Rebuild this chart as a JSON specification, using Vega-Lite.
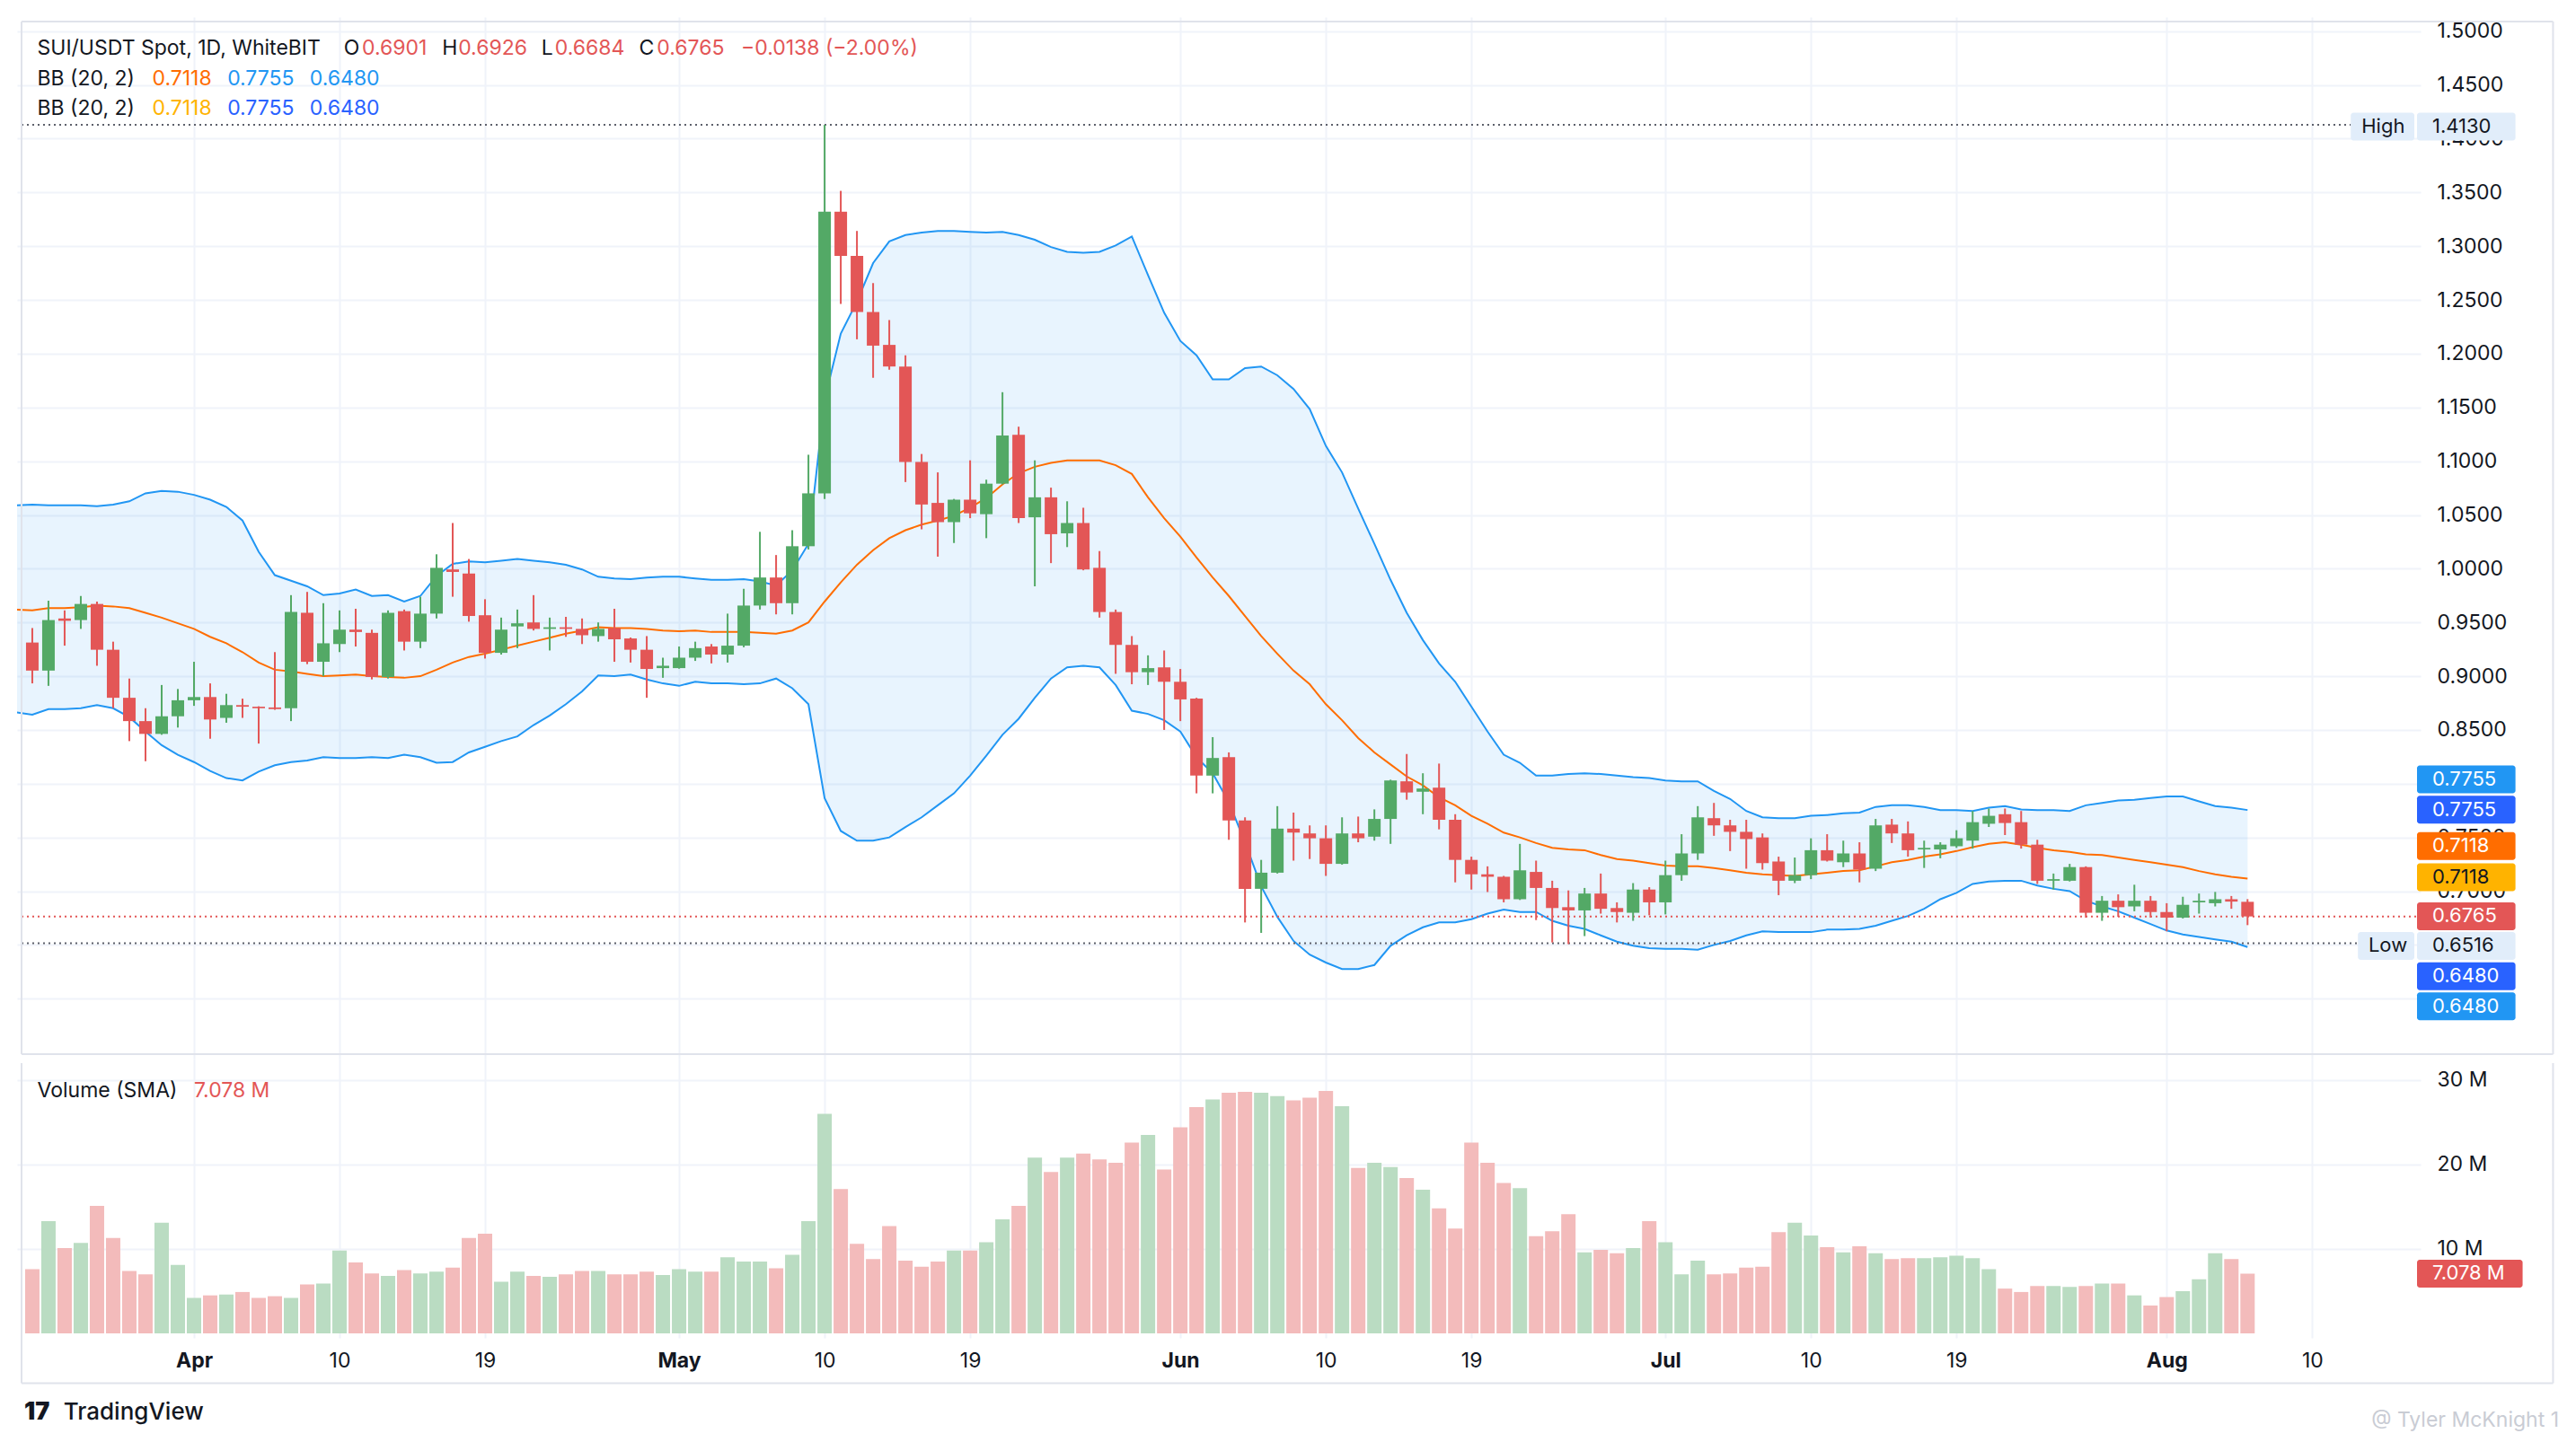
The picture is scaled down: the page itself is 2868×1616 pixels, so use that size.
{
  "$schema": "https://vega.github.io/schema/vega-lite/v6.json",
  "background": "#ffffff",
  "padding": {"left": 19, "top": 19, "right": 0, "bottom": 0},
  "autosize": {"type": "pad"},
  "bounds": "flush",
  "spacing": 0,
  "config": {
    "font": "Inter",
    "view": {"stroke": null},
    "axis": {"labelFont": "Inter", "labelFontSize": 23, "labelColor": "#131722", "gridColor": "#f0f3fa", "gridWidth": 2}
  },
  "datasets": {
    "bars": [
      {"date": "2024-03-22", "open": 0.9313, "high": 0.9448, "low": 0.8933, "close": 0.9052, "volume": 7600000},
      {"date": "2024-03-23", "open": 0.9052, "high": 0.9702, "low": 0.8910, "close": 0.9522, "volume": 13300000},
      {"date": "2024-03-24", "open": 0.9537, "high": 0.9612, "low": 0.9284, "close": 0.9515, "volume": 10100000},
      {"date": "2024-03-25", "open": 0.9522, "high": 0.9746, "low": 0.9440, "close": 0.9672, "volume": 10700000},
      {"date": "2024-03-26", "open": 0.9672, "high": 0.9694, "low": 0.9097, "close": 0.9246, "volume": 15100000},
      {"date": "2024-03-27", "open": 0.9246, "high": 0.9321, "low": 0.8702, "close": 0.8799, "volume": 11300000},
      {"date": "2024-03-28", "open": 0.8799, "high": 0.8978, "low": 0.8396, "close": 0.8582, "volume": 7400000},
      {"date": "2024-03-29", "open": 0.8582, "high": 0.8702, "low": 0.8209, "close": 0.8463, "volume": 7000000},
      {"date": "2024-03-30", "open": 0.8463, "high": 0.8918, "low": 0.8455, "close": 0.8627, "volume": 13100000},
      {"date": "2024-03-31", "open": 0.8627, "high": 0.8881, "low": 0.8522, "close": 0.8776, "volume": 8100000},
      {"date": "2024-04-01", "open": 0.8776, "high": 0.9134, "low": 0.8724, "close": 0.8806, "volume": 4200000},
      {"date": "2024-04-02", "open": 0.8806, "high": 0.8933, "low": 0.8418, "close": 0.8597, "volume": 4500000},
      {"date": "2024-04-03", "open": 0.8612, "high": 0.8836, "low": 0.8567, "close": 0.8731, "volume": 4600000},
      {"date": "2024-04-04", "open": 0.8731, "high": 0.8791, "low": 0.8612, "close": 0.8716, "volume": 4900000},
      {"date": "2024-04-05", "open": 0.8716, "high": 0.8720, "low": 0.8373, "close": 0.8702, "volume": 4200000},
      {"date": "2024-04-06", "open": 0.8709, "high": 0.9224, "low": 0.8687, "close": 0.8694, "volume": 4400000},
      {"date": "2024-04-07", "open": 0.8702, "high": 0.9754, "low": 0.8582, "close": 0.9597, "volume": 4200000},
      {"date": "2024-04-08", "open": 0.9590, "high": 0.9784, "low": 0.9112, "close": 0.9134, "volume": 5800000},
      {"date": "2024-04-09", "open": 0.9134, "high": 0.9679, "low": 0.9000, "close": 0.9306, "volume": 5900000},
      {"date": "2024-04-10", "open": 0.9299, "high": 0.9612, "low": 0.9224, "close": 0.9433, "volume": 9800000},
      {"date": "2024-04-11", "open": 0.9433, "high": 0.9627, "low": 0.9276, "close": 0.9411, "volume": 8400000},
      {"date": "2024-04-12", "open": 0.9403, "high": 0.9433, "low": 0.8970, "close": 0.8993, "volume": 7100000},
      {"date": "2024-04-13", "open": 0.8993, "high": 0.9612, "low": 0.8978, "close": 0.9590, "volume": 6800000},
      {"date": "2024-04-14", "open": 0.9605, "high": 0.9620, "low": 0.9239, "close": 0.9321, "volume": 7500000},
      {"date": "2024-04-15", "open": 0.9321, "high": 0.9739, "low": 0.9261, "close": 0.9582, "volume": 7100000},
      {"date": "2024-04-16", "open": 0.9582, "high": 1.0134, "low": 0.9537, "close": 1.0008, "volume": 7300000},
      {"date": "2024-04-17", "open": 0.9993, "high": 1.0425, "low": 0.9739, "close": 0.9970, "volume": 7800000},
      {"date": "2024-04-18", "open": 0.9955, "high": 1.0090, "low": 0.9507, "close": 0.9560, "volume": 11300000},
      {"date": "2024-04-19", "open": 0.9567, "high": 0.9716, "low": 0.9164, "close": 0.9217, "volume": 11800000},
      {"date": "2024-04-20", "open": 0.9217, "high": 0.9545, "low": 0.9201, "close": 0.9433, "volume": 6100000},
      {"date": "2024-04-21", "open": 0.9463, "high": 0.9620, "low": 0.9261, "close": 0.9492, "volume": 7300000},
      {"date": "2024-04-22", "open": 0.9500, "high": 0.9754, "low": 0.9425, "close": 0.9440, "volume": 6800000},
      {"date": "2024-04-23", "open": 0.9440, "high": 0.9545, "low": 0.9239, "close": 0.9455, "volume": 6700000},
      {"date": "2024-04-24", "open": 0.9455, "high": 0.9552, "low": 0.9366, "close": 0.9440, "volume": 7000000},
      {"date": "2024-04-25", "open": 0.9440, "high": 0.9537, "low": 0.9299, "close": 0.9381, "volume": 7400000},
      {"date": "2024-04-26", "open": 0.9373, "high": 0.9500, "low": 0.9321, "close": 0.9440, "volume": 7400000},
      {"date": "2024-04-27", "open": 0.9448, "high": 0.9627, "low": 0.9134, "close": 0.9343, "volume": 7000000},
      {"date": "2024-04-28", "open": 0.9351, "high": 0.9360, "low": 0.9127, "close": 0.9246, "volume": 7000000},
      {"date": "2024-04-29", "open": 0.9246, "high": 0.9373, "low": 0.8799, "close": 0.9067, "volume": 7300000},
      {"date": "2024-04-30", "open": 0.9075, "high": 0.9172, "low": 0.8985, "close": 0.9097, "volume": 6900000},
      {"date": "2024-05-01", "open": 0.9075, "high": 0.9276, "low": 0.9070, "close": 0.9172, "volume": 7600000},
      {"date": "2024-05-02", "open": 0.9172, "high": 0.9321, "low": 0.9142, "close": 0.9261, "volume": 7300000},
      {"date": "2024-05-03", "open": 0.9276, "high": 0.9299, "low": 0.9119, "close": 0.9201, "volume": 7300000},
      {"date": "2024-05-04", "open": 0.9201, "high": 0.9582, "low": 0.9127, "close": 0.9284, "volume": 9000000},
      {"date": "2024-05-05", "open": 0.9284, "high": 0.9813, "low": 0.9269, "close": 0.9657, "volume": 8500000},
      {"date": "2024-05-06", "open": 0.9657, "high": 1.0343, "low": 0.9620, "close": 0.9918, "volume": 8500000},
      {"date": "2024-05-07", "open": 0.9918, "high": 1.0127, "low": 0.9575, "close": 0.9679, "volume": 7700000},
      {"date": "2024-05-08", "open": 0.9679, "high": 1.0358, "low": 0.9575, "close": 1.0209, "volume": 9300000},
      {"date": "2024-05-09", "open": 1.0209, "high": 1.1060, "low": 1.0179, "close": 1.0701, "volume": 13300000},
      {"date": "2024-05-10", "open": 1.0701, "high": 1.4130, "low": 1.0649, "close": 1.3321, "volume": 26000000},
      {"date": "2024-05-11", "open": 1.3321, "high": 1.3515, "low": 1.2463, "close": 1.2910, "volume": 17100000},
      {"date": "2024-05-12", "open": 1.2910, "high": 1.3142, "low": 1.2134, "close": 1.2388, "volume": 10600000},
      {"date": "2024-05-13", "open": 1.2388, "high": 1.2657, "low": 1.1776, "close": 1.2075, "volume": 8800000},
      {"date": "2024-05-14", "open": 1.2082, "high": 1.2313, "low": 1.1851, "close": 1.1881, "volume": 12700000},
      {"date": "2024-05-15", "open": 1.1881, "high": 1.1985, "low": 1.0806, "close": 1.0993, "volume": 8600000},
      {"date": "2024-05-16", "open": 1.0993, "high": 1.1067, "low": 1.0366, "close": 1.0597, "volume": 7900000},
      {"date": "2024-05-17", "open": 1.0612, "high": 1.0896, "low": 1.0112, "close": 1.0433, "volume": 8500000},
      {"date": "2024-05-18", "open": 1.0433, "high": 1.0649, "low": 1.0239, "close": 1.0642, "volume": 9800000},
      {"date": "2024-05-19", "open": 1.0642, "high": 1.1008, "low": 1.0470, "close": 1.0515, "volume": 9800000},
      {"date": "2024-05-20", "open": 1.0507, "high": 1.0828, "low": 1.0284, "close": 1.0791, "volume": 10800000},
      {"date": "2024-05-21", "open": 1.0791, "high": 1.1642, "low": 1.0784, "close": 1.1239, "volume": 13500000},
      {"date": "2024-05-22", "open": 1.1246, "high": 1.1321, "low": 1.0425, "close": 1.0470, "volume": 15100000},
      {"date": "2024-05-23", "open": 1.0478, "high": 1.1008, "low": 0.9836, "close": 1.0664, "volume": 20800000},
      {"date": "2024-05-24", "open": 1.0664, "high": 1.0754, "low": 1.0052, "close": 1.0321, "volume": 19100000},
      {"date": "2024-05-25", "open": 1.0329, "high": 1.0627, "low": 1.0201, "close": 1.0425, "volume": 20800000},
      {"date": "2024-05-26", "open": 1.0425, "high": 1.0567, "low": 0.9985, "close": 0.9993, "volume": 21300000},
      {"date": "2024-05-27", "open": 1.0008, "high": 1.0164, "low": 0.9545, "close": 0.9597, "volume": 20600000},
      {"date": "2024-05-28", "open": 0.9597, "high": 0.9620, "low": 0.9022, "close": 0.9291, "volume": 20200000},
      {"date": "2024-05-29", "open": 0.9291, "high": 0.9373, "low": 0.8925, "close": 0.9037, "volume": 22600000},
      {"date": "2024-05-30", "open": 0.9037, "high": 0.9194, "low": 0.8918, "close": 0.9075, "volume": 23500000},
      {"date": "2024-05-31", "open": 0.9082, "high": 0.9239, "low": 0.8500, "close": 0.8948, "volume": 19400000},
      {"date": "2024-06-01", "open": 0.8948, "high": 0.9067, "low": 0.8582, "close": 0.8784, "volume": 24400000},
      {"date": "2024-06-02", "open": 0.8791, "high": 0.8799, "low": 0.7910, "close": 0.8075, "volume": 26800000},
      {"date": "2024-06-03", "open": 0.8075, "high": 0.8433, "low": 0.7910, "close": 0.8239, "volume": 27700000},
      {"date": "2024-06-04", "open": 0.8246, "high": 0.8291, "low": 0.7478, "close": 0.7657, "volume": 28500000},
      {"date": "2024-06-05", "open": 0.7657, "high": 0.7687, "low": 0.6709, "close": 0.7022, "volume": 28600000},
      {"date": "2024-06-06", "open": 0.7022, "high": 0.7291, "low": 0.6612, "close": 0.7172, "volume": 28500000},
      {"date": "2024-06-07", "open": 0.7172, "high": 0.7791, "low": 0.7164, "close": 0.7582, "volume": 28100000},
      {"date": "2024-06-08", "open": 0.7582, "high": 0.7731, "low": 0.7284, "close": 0.7545, "volume": 27600000},
      {"date": "2024-06-09", "open": 0.7537, "high": 0.7612, "low": 0.7299, "close": 0.7492, "volume": 27900000},
      {"date": "2024-06-10", "open": 0.7492, "high": 0.7612, "low": 0.7142, "close": 0.7254, "volume": 28700000},
      {"date": "2024-06-11", "open": 0.7254, "high": 0.7687, "low": 0.7247, "close": 0.7537, "volume": 26900000},
      {"date": "2024-06-12", "open": 0.7537, "high": 0.7694, "low": 0.7455, "close": 0.7492, "volume": 19600000},
      {"date": "2024-06-13", "open": 0.7507, "high": 0.7761, "low": 0.7470, "close": 0.7672, "volume": 20200000},
      {"date": "2024-06-14", "open": 0.7672, "high": 0.8037, "low": 0.7440, "close": 0.8030, "volume": 19700000},
      {"date": "2024-06-15", "open": 0.8022, "high": 0.8276, "low": 0.7851, "close": 0.7918, "volume": 18400000},
      {"date": "2024-06-16", "open": 0.7925, "high": 0.8097, "low": 0.7716, "close": 0.7955, "volume": 17000000},
      {"date": "2024-06-17", "open": 0.7963, "high": 0.8187, "low": 0.7575, "close": 0.7664, "volume": 14800000},
      {"date": "2024-06-18", "open": 0.7664, "high": 0.7716, "low": 0.7082, "close": 0.7291, "volume": 12400000},
      {"date": "2024-06-19", "open": 0.7291, "high": 0.7321, "low": 0.7015, "close": 0.7157, "volume": 22600000},
      {"date": "2024-06-20", "open": 0.7157, "high": 0.7231, "low": 0.6992, "close": 0.7134, "volume": 20200000},
      {"date": "2024-06-21", "open": 0.7134, "high": 0.7142, "low": 0.6896, "close": 0.6925, "volume": 17800000},
      {"date": "2024-06-22", "open": 0.6925, "high": 0.7440, "low": 0.6918, "close": 0.7194, "volume": 17200000},
      {"date": "2024-06-23", "open": 0.7179, "high": 0.7284, "low": 0.6731, "close": 0.7030, "volume": 11500000},
      {"date": "2024-06-24", "open": 0.7030, "high": 0.7097, "low": 0.6523, "close": 0.6843, "volume": 12100000},
      {"date": "2024-06-25", "open": 0.6851, "high": 0.7007, "low": 0.6508, "close": 0.6821, "volume": 14100000},
      {"date": "2024-06-26", "open": 0.6821, "high": 0.7030, "low": 0.6582, "close": 0.6978, "volume": 9600000},
      {"date": "2024-06-27", "open": 0.6978, "high": 0.7164, "low": 0.6791, "close": 0.6836, "volume": 9900000},
      {"date": "2024-06-28", "open": 0.6843, "high": 0.6896, "low": 0.6709, "close": 0.6806, "volume": 9500000},
      {"date": "2024-06-29", "open": 0.6799, "high": 0.7075, "low": 0.6724, "close": 0.7015, "volume": 10100000},
      {"date": "2024-06-30", "open": 0.7015, "high": 0.7037, "low": 0.6776, "close": 0.6896, "volume": 13300000},
      {"date": "2024-07-01", "open": 0.6896, "high": 0.7284, "low": 0.6784, "close": 0.7149, "volume": 10800000},
      {"date": "2024-07-02", "open": 0.7149, "high": 0.7530, "low": 0.7097, "close": 0.7351, "volume": 7000000},
      {"date": "2024-07-03", "open": 0.7351, "high": 0.7791, "low": 0.7291, "close": 0.7687, "volume": 8600000},
      {"date": "2024-07-04", "open": 0.7679, "high": 0.7821, "low": 0.7515, "close": 0.7612, "volume": 7000000},
      {"date": "2024-07-05", "open": 0.7612, "high": 0.7664, "low": 0.7373, "close": 0.7552, "volume": 7100000},
      {"date": "2024-07-06", "open": 0.7552, "high": 0.7664, "low": 0.7209, "close": 0.7485, "volume": 7800000},
      {"date": "2024-07-07", "open": 0.7500, "high": 0.7537, "low": 0.7201, "close": 0.7261, "volume": 7900000},
      {"date": "2024-07-08", "open": 0.7276, "high": 0.7321, "low": 0.6963, "close": 0.7097, "volume": 12000000},
      {"date": "2024-07-09", "open": 0.7097, "high": 0.7313, "low": 0.7075, "close": 0.7149, "volume": 13100000},
      {"date": "2024-07-10", "open": 0.7149, "high": 0.7492, "low": 0.7112, "close": 0.7381, "volume": 11600000},
      {"date": "2024-07-11", "open": 0.7381, "high": 0.7530, "low": 0.7276, "close": 0.7284, "volume": 10200000},
      {"date": "2024-07-12", "open": 0.7269, "high": 0.7470, "low": 0.7224, "close": 0.7351, "volume": 9600000},
      {"date": "2024-07-13", "open": 0.7351, "high": 0.7455, "low": 0.7082, "close": 0.7201, "volume": 10300000},
      {"date": "2024-07-14", "open": 0.7209, "high": 0.7672, "low": 0.7187, "close": 0.7612, "volume": 9500000},
      {"date": "2024-07-15", "open": 0.7619, "high": 0.7672, "low": 0.7448, "close": 0.7537, "volume": 8800000},
      {"date": "2024-07-16", "open": 0.7537, "high": 0.7649, "low": 0.7321, "close": 0.7381, "volume": 8900000},
      {"date": "2024-07-17", "open": 0.7388, "high": 0.7470, "low": 0.7216, "close": 0.7403, "volume": 8900000},
      {"date": "2024-07-18", "open": 0.7388, "high": 0.7455, "low": 0.7306, "close": 0.7433, "volume": 9000000},
      {"date": "2024-07-19", "open": 0.7418, "high": 0.7567, "low": 0.7403, "close": 0.7492, "volume": 9200000},
      {"date": "2024-07-20", "open": 0.7470, "high": 0.7746, "low": 0.7396, "close": 0.7642, "volume": 8900000},
      {"date": "2024-07-21", "open": 0.7627, "high": 0.7769, "low": 0.7597, "close": 0.7701, "volume": 7600000},
      {"date": "2024-07-22", "open": 0.7716, "high": 0.7769, "low": 0.7522, "close": 0.7634, "volume": 5300000},
      {"date": "2024-07-23", "open": 0.7642, "high": 0.7746, "low": 0.7396, "close": 0.7433, "volume": 4900000},
      {"date": "2024-07-24", "open": 0.7433, "high": 0.7478, "low": 0.7067, "close": 0.7097, "volume": 5600000},
      {"date": "2024-07-25", "open": 0.7097, "high": 0.7164, "low": 0.7015, "close": 0.7112, "volume": 5600000},
      {"date": "2024-07-26", "open": 0.7097, "high": 0.7254, "low": 0.7090, "close": 0.7224, "volume": 5500000},
      {"date": "2024-07-27", "open": 0.7224, "high": 0.7231, "low": 0.6754, "close": 0.6799, "volume": 5600000},
      {"date": "2024-07-28", "open": 0.6799, "high": 0.6955, "low": 0.6724, "close": 0.6911, "volume": 5900000},
      {"date": "2024-07-29", "open": 0.6911, "high": 0.6970, "low": 0.6761, "close": 0.6851, "volume": 5900000},
      {"date": "2024-07-30", "open": 0.6858, "high": 0.7060, "low": 0.6813, "close": 0.6911, "volume": 4500000},
      {"date": "2024-07-31", "open": 0.6911, "high": 0.6955, "low": 0.6754, "close": 0.6806, "volume": 3300000},
      {"date": "2024-08-01", "open": 0.6806, "high": 0.6888, "low": 0.6627, "close": 0.6754, "volume": 4300000},
      {"date": "2024-08-02", "open": 0.6754, "high": 0.6948, "low": 0.6746, "close": 0.6873, "volume": 5000000},
      {"date": "2024-08-03", "open": 0.6896, "high": 0.6978, "low": 0.6791, "close": 0.6911, "volume": 6400000},
      {"date": "2024-08-04", "open": 0.6888, "high": 0.6993, "low": 0.6858, "close": 0.6925, "volume": 9500000},
      {"date": "2024-08-05", "open": 0.6925, "high": 0.6955, "low": 0.6836, "close": 0.6903, "volume": 8800000},
      {"date": "2024-08-06", "open": 0.6901, "high": 0.6926, "low": 0.6684, "close": 0.6765, "volume": 7078000}
    ],
    "bb": [
      {"date": "2024-03-21", "basis": 0.9620, "upper": 1.0590, "lower": 0.8664},
      {"date": "2024-03-22", "basis": 0.9612, "upper": 1.0597, "lower": 0.8642},
      {"date": "2024-03-23", "basis": 0.9634, "upper": 1.0590, "lower": 0.8694},
      {"date": "2024-03-24", "basis": 0.9634, "upper": 1.0590, "lower": 0.8694},
      {"date": "2024-03-25", "basis": 0.9642, "upper": 1.0590, "lower": 0.8702},
      {"date": "2024-03-26", "basis": 0.9657, "upper": 1.0582, "lower": 0.8731},
      {"date": "2024-03-27", "basis": 0.9649, "upper": 1.0597, "lower": 0.8702},
      {"date": "2024-03-28", "basis": 0.9634, "upper": 1.0627, "lower": 0.8619},
      {"date": "2024-03-29", "basis": 0.9590, "upper": 1.0701, "lower": 0.8485},
      {"date": "2024-03-30", "basis": 0.9545, "upper": 1.0724, "lower": 0.8358},
      {"date": "2024-03-31", "basis": 0.9492, "upper": 1.0716, "lower": 0.8269},
      {"date": "2024-04-01", "basis": 0.9440, "upper": 1.0687, "lower": 0.8201},
      {"date": "2024-04-02", "basis": 0.9366, "upper": 1.0642, "lower": 0.8119},
      {"date": "2024-04-03", "basis": 0.9306, "upper": 1.0575, "lower": 0.8052},
      {"date": "2024-04-04", "basis": 0.9224, "upper": 1.0448, "lower": 0.8030},
      {"date": "2024-04-05", "basis": 0.9127, "upper": 1.0157, "lower": 0.8112},
      {"date": "2024-04-06", "basis": 0.9060, "upper": 0.9940, "lower": 0.8172},
      {"date": "2024-04-07", "basis": 0.9045, "upper": 0.9888, "lower": 0.8201},
      {"date": "2024-04-08", "basis": 0.9022, "upper": 0.9836, "lower": 0.8216},
      {"date": "2024-04-09", "basis": 0.9000, "upper": 0.9754, "lower": 0.8246},
      {"date": "2024-04-10", "basis": 0.9007, "upper": 0.9769, "lower": 0.8239},
      {"date": "2024-04-11", "basis": 0.9015, "upper": 0.9806, "lower": 0.8239},
      {"date": "2024-04-12", "basis": 0.9000, "upper": 0.9746, "lower": 0.8246},
      {"date": "2024-04-13", "basis": 0.8993, "upper": 0.9754, "lower": 0.8239},
      {"date": "2024-04-14", "basis": 0.8985, "upper": 0.9694, "lower": 0.8269},
      {"date": "2024-04-15", "basis": 0.9000, "upper": 0.9746, "lower": 0.8246},
      {"date": "2024-04-16", "basis": 0.9060, "upper": 0.9933, "lower": 0.8194},
      {"date": "2024-04-17", "basis": 0.9127, "upper": 1.0045, "lower": 0.8201},
      {"date": "2024-04-18", "basis": 0.9179, "upper": 1.0067, "lower": 0.8291},
      {"date": "2024-04-19", "basis": 0.9209, "upper": 1.0060, "lower": 0.8343},
      {"date": "2024-04-20", "basis": 0.9246, "upper": 1.0075, "lower": 0.8396},
      {"date": "2024-04-21", "basis": 0.9284, "upper": 1.0090, "lower": 0.8440},
      {"date": "2024-04-22", "basis": 0.9321, "upper": 1.0075, "lower": 0.8545},
      {"date": "2024-04-23", "basis": 0.9358, "upper": 1.0060, "lower": 0.8634},
      {"date": "2024-04-24", "basis": 0.9396, "upper": 1.0037, "lower": 0.8739},
      {"date": "2024-04-25", "basis": 0.9425, "upper": 0.9993, "lower": 0.8858},
      {"date": "2024-04-26", "basis": 0.9455, "upper": 0.9925, "lower": 0.9007},
      {"date": "2024-04-27", "basis": 0.9448, "upper": 0.9910, "lower": 0.9000},
      {"date": "2024-04-28", "basis": 0.9448, "upper": 0.9903, "lower": 0.9015},
      {"date": "2024-04-29", "basis": 0.9440, "upper": 0.9918, "lower": 0.8970},
      {"date": "2024-04-30", "basis": 0.9425, "upper": 0.9925, "lower": 0.8933},
      {"date": "2024-05-01", "basis": 0.9418, "upper": 0.9925, "lower": 0.8910},
      {"date": "2024-05-02", "basis": 0.9425, "upper": 0.9910, "lower": 0.8948},
      {"date": "2024-05-03", "basis": 0.9411, "upper": 0.9896, "lower": 0.8933},
      {"date": "2024-05-04", "basis": 0.9411, "upper": 0.9896, "lower": 0.8933},
      {"date": "2024-05-05", "basis": 0.9411, "upper": 0.9903, "lower": 0.8925},
      {"date": "2024-05-06", "basis": 0.9403, "upper": 0.9881, "lower": 0.8933},
      {"date": "2024-05-07", "basis": 0.9396, "upper": 0.9843, "lower": 0.8978},
      {"date": "2024-05-08", "basis": 0.9425, "upper": 0.9985, "lower": 0.8888},
      {"date": "2024-05-09", "basis": 0.9500, "upper": 1.0231, "lower": 0.8739},
      {"date": "2024-05-10", "basis": 0.9694, "upper": 1.1575, "lower": 0.7866},
      {"date": "2024-05-11", "basis": 0.9873, "upper": 1.2187, "lower": 0.7560},
      {"date": "2024-05-12", "basis": 1.0037, "upper": 1.2485, "lower": 0.7470},
      {"date": "2024-05-13", "basis": 1.0172, "upper": 1.2843, "lower": 0.7470},
      {"date": "2024-05-14", "basis": 1.0284, "upper": 1.3045, "lower": 0.7500},
      {"date": "2024-05-15", "basis": 1.0358, "upper": 1.3104, "lower": 0.7597},
      {"date": "2024-05-16", "basis": 1.0410, "upper": 1.3127, "lower": 0.7687},
      {"date": "2024-05-17", "basis": 1.0448, "upper": 1.3142, "lower": 0.7799},
      {"date": "2024-05-18", "basis": 1.0493, "upper": 1.3142, "lower": 0.7910},
      {"date": "2024-05-19", "basis": 1.0567, "upper": 1.3134, "lower": 0.8075},
      {"date": "2024-05-20", "basis": 1.0657, "upper": 1.3127, "lower": 0.8261},
      {"date": "2024-05-21", "basis": 1.0784, "upper": 1.3134, "lower": 0.8455},
      {"date": "2024-05-22", "basis": 1.0888, "upper": 1.3104, "lower": 0.8604},
      {"date": "2024-05-23", "basis": 1.0948, "upper": 1.3060, "lower": 0.8799},
      {"date": "2024-05-24", "basis": 1.0985, "upper": 1.2992, "lower": 0.8978},
      {"date": "2024-05-25", "basis": 1.1007, "upper": 1.2948, "lower": 0.9082},
      {"date": "2024-05-26", "basis": 1.1007, "upper": 1.2940, "lower": 0.9097},
      {"date": "2024-05-27", "basis": 1.1007, "upper": 1.2948, "lower": 0.9082},
      {"date": "2024-05-28", "basis": 1.0963, "upper": 1.3007, "lower": 0.8918},
      {"date": "2024-05-29", "basis": 1.0881, "upper": 1.3090, "lower": 0.8679},
      {"date": "2024-05-30", "basis": 1.0664, "upper": 1.2731, "lower": 0.8649},
      {"date": "2024-05-31", "basis": 1.0470, "upper": 1.2381, "lower": 0.8590},
      {"date": "2024-06-01", "basis": 1.0299, "upper": 1.2119, "lower": 0.8485},
      {"date": "2024-06-02", "basis": 1.0105, "upper": 1.1985, "lower": 0.8246},
      {"date": "2024-06-03", "basis": 0.9918, "upper": 1.1761, "lower": 0.8097},
      {"date": "2024-06-04", "basis": 0.9746, "upper": 1.1761, "lower": 0.7828},
      {"date": "2024-06-05", "basis": 0.9560, "upper": 1.1866, "lower": 0.7455},
      {"date": "2024-06-06", "basis": 0.9373, "upper": 1.1881, "lower": 0.7045},
      {"date": "2024-06-07", "basis": 0.9209, "upper": 1.1799, "lower": 0.6761},
      {"date": "2024-06-08", "basis": 0.9052, "upper": 1.1672, "lower": 0.6537},
      {"date": "2024-06-09", "basis": 0.8925, "upper": 1.1485, "lower": 0.6410},
      {"date": "2024-06-10", "basis": 0.8739, "upper": 1.1142, "lower": 0.6336},
      {"date": "2024-06-11", "basis": 0.8590, "upper": 1.0896, "lower": 0.6276},
      {"date": "2024-06-12", "basis": 0.8425, "upper": 1.0560, "lower": 0.6276},
      {"date": "2024-06-13", "basis": 0.8291, "upper": 1.0231, "lower": 0.6313},
      {"date": "2024-06-14", "basis": 0.8179, "upper": 0.9896, "lower": 0.6492},
      {"date": "2024-06-15", "basis": 0.8067, "upper": 0.9590, "lower": 0.6589},
      {"date": "2024-06-16", "basis": 0.7985, "upper": 0.9336, "lower": 0.6664},
      {"date": "2024-06-17", "basis": 0.7873, "upper": 0.9119, "lower": 0.6709},
      {"date": "2024-06-18", "basis": 0.7799, "upper": 0.8948, "lower": 0.6709},
      {"date": "2024-06-19", "basis": 0.7701, "upper": 0.8716, "lower": 0.6739},
      {"date": "2024-06-20", "basis": 0.7627, "upper": 0.8485, "lower": 0.6791},
      {"date": "2024-06-21", "basis": 0.7545, "upper": 0.8269, "lower": 0.6828},
      {"date": "2024-06-22", "basis": 0.7500, "upper": 0.8194, "lower": 0.6806},
      {"date": "2024-06-23", "basis": 0.7448, "upper": 0.8075, "lower": 0.6806},
      {"date": "2024-06-24", "basis": 0.7403, "upper": 0.8075, "lower": 0.6724},
      {"date": "2024-06-25", "basis": 0.7388, "upper": 0.8090, "lower": 0.6679},
      {"date": "2024-06-26", "basis": 0.7381, "upper": 0.8097, "lower": 0.6649},
      {"date": "2024-06-27", "basis": 0.7336, "upper": 0.8090, "lower": 0.6589},
      {"date": "2024-06-28", "basis": 0.7299, "upper": 0.8075, "lower": 0.6530},
      {"date": "2024-06-29", "basis": 0.7284, "upper": 0.8060, "lower": 0.6492},
      {"date": "2024-06-30", "basis": 0.7261, "upper": 0.8052, "lower": 0.6470},
      {"date": "2024-07-01", "basis": 0.7239, "upper": 0.8030, "lower": 0.6463},
      {"date": "2024-07-02", "basis": 0.7231, "upper": 0.8022, "lower": 0.6463},
      {"date": "2024-07-03", "basis": 0.7231, "upper": 0.8022, "lower": 0.6455},
      {"date": "2024-07-04", "basis": 0.7216, "upper": 0.7933, "lower": 0.6500},
      {"date": "2024-07-05", "basis": 0.7194, "upper": 0.7858, "lower": 0.6537},
      {"date": "2024-07-06", "basis": 0.7172, "upper": 0.7746, "lower": 0.6589},
      {"date": "2024-07-07", "basis": 0.7157, "upper": 0.7687, "lower": 0.6627},
      {"date": "2024-07-08", "basis": 0.7149, "upper": 0.7679, "lower": 0.6619},
      {"date": "2024-07-09", "basis": 0.7142, "upper": 0.7679, "lower": 0.6619},
      {"date": "2024-07-10", "basis": 0.7157, "upper": 0.7701, "lower": 0.6619},
      {"date": "2024-07-11", "basis": 0.7172, "upper": 0.7709, "lower": 0.6642},
      {"date": "2024-07-12", "basis": 0.7187, "upper": 0.7724, "lower": 0.6642},
      {"date": "2024-07-13", "basis": 0.7194, "upper": 0.7731, "lower": 0.6649},
      {"date": "2024-07-14", "basis": 0.7231, "upper": 0.7784, "lower": 0.6679},
      {"date": "2024-07-15", "basis": 0.7269, "upper": 0.7799, "lower": 0.6724},
      {"date": "2024-07-16", "basis": 0.7291, "upper": 0.7799, "lower": 0.6769},
      {"date": "2024-07-17", "basis": 0.7321, "upper": 0.7784, "lower": 0.6836},
      {"date": "2024-07-18", "basis": 0.7343, "upper": 0.7754, "lower": 0.6925},
      {"date": "2024-07-19", "basis": 0.7373, "upper": 0.7754, "lower": 0.6985},
      {"date": "2024-07-20", "basis": 0.7410, "upper": 0.7746, "lower": 0.7067},
      {"date": "2024-07-21", "basis": 0.7440, "upper": 0.7776, "lower": 0.7090},
      {"date": "2024-07-22", "basis": 0.7455, "upper": 0.7791, "lower": 0.7097},
      {"date": "2024-07-23", "basis": 0.7433, "upper": 0.7761, "lower": 0.7097},
      {"date": "2024-07-24", "basis": 0.7403, "upper": 0.7754, "lower": 0.7052},
      {"date": "2024-07-25", "basis": 0.7381, "upper": 0.7754, "lower": 0.7022},
      {"date": "2024-07-26", "basis": 0.7366, "upper": 0.7746, "lower": 0.7000},
      {"date": "2024-07-27", "basis": 0.7343, "upper": 0.7799, "lower": 0.6911},
      {"date": "2024-07-28", "basis": 0.7336, "upper": 0.7821, "lower": 0.6858},
      {"date": "2024-07-29", "basis": 0.7313, "upper": 0.7843, "lower": 0.6813},
      {"date": "2024-07-30", "basis": 0.7291, "upper": 0.7851, "lower": 0.6754},
      {"date": "2024-07-31", "basis": 0.7269, "upper": 0.7866, "lower": 0.6694},
      {"date": "2024-08-01", "basis": 0.7246, "upper": 0.7881, "lower": 0.6634},
      {"date": "2024-08-02", "basis": 0.7224, "upper": 0.7881, "lower": 0.6597},
      {"date": "2024-08-03", "basis": 0.7187, "upper": 0.7836, "lower": 0.6575},
      {"date": "2024-08-04", "basis": 0.7157, "upper": 0.7791, "lower": 0.6552},
      {"date": "2024-08-05", "basis": 0.7134, "upper": 0.7776, "lower": 0.6530},
      {"date": "2024-08-06", "basis": 0.7118, "upper": 0.7755, "lower": 0.6480}
    ],
    "tags": [
      {"label": "1.4130", "level": 1.4112, "kind": "high"},
      {"label": "0.7755", "level": 0.8040, "kind": "bb1band"},
      {"label": "0.7755", "level": 0.7758, "kind": "bb2band"},
      {"label": "0.7118", "level": 0.7419, "kind": "bb1basis"},
      {"label": "0.7118", "level": 0.7129, "kind": "bb2basis"},
      {"label": "0.6765", "level": 0.6767, "kind": "last"},
      {"label": "0.6516", "level": 0.6491, "kind": "low"},
      {"label": "0.6480", "level": 0.6209, "kind": "bb2band"},
      {"label": "0.6480", "level": 0.5928, "kind": "bb1band"}
    ],
    "one": [{}]
  },
  "vconcat": [
    {
      "width": 2676,
      "height": 1160,
      "layer": [
        {
          "data": {"name": "bb"},
          "mark": {"type": "area", "color": "#2196f3", "opacity": 0.1, "clip": true},
          "encoding": {
            "x": {
              "field": "date", "type": "temporal",
              "scale": {"type": "utc", "domain": [1711008230400, 1723803206400], "nice": false},
              "axis": {
                "title": null, "labels": false, "ticks": false, "domain": false, "grid": true,
                "values": [1711929600000, 1712707200000, 1713484800000, 1714521600000, 1715299200000, 1716076800000, 1717200000000, 1717977600000, 1718755200000, 1719792000000, 1720569600000, 1721347200000, 1722470400000, 1723248000000]
              }
            },
            "y": {
              "field": "lower", "type": "quantitative",
              "scale": {"domain": [0.5484, 1.509], "zero": false, "nice": false},
              "axis": {
                "title": null, "orient": "right", "ticks": false, "domain": false, "grid": true, "labelPadding": 18,
                "values": [0.6, 0.65, 0.7, 0.75, 0.8, 0.85, 0.9, 0.95, 1.0, 1.05, 1.1, 1.15, 1.2, 1.25, 1.3, 1.35, 1.4, 1.45, 1.5],
                "labelExpr": "datum.value == 0.8 || datum.value == 0.65 || datum.value == 0.6 ? '' : format(datum.value, '.4f')"
              }
            },
            "y2": {"field": "upper"}
          }
        },
        {
          "data": {"name": "bb"},
          "mark": {"type": "line", "color": "#2196f3", "strokeWidth": 2, "clip": true},
          "encoding": {"x": {"field": "date", "type": "temporal"}, "y": {"field": "upper", "type": "quantitative"}}
        },
        {
          "data": {"name": "bb"},
          "mark": {"type": "line", "color": "#2196f3", "strokeWidth": 2, "clip": true},
          "encoding": {"x": {"field": "date", "type": "temporal"}, "y": {"field": "lower", "type": "quantitative"}}
        },
        {
          "data": {"name": "bb"},
          "mark": {"type": "line", "color": "#ff6d00", "strokeWidth": 2, "clip": true},
          "encoding": {"x": {"field": "date", "type": "temporal"}, "y": {"field": "basis", "type": "quantitative"}}
        },
        {
          "data": {"name": "one"},
          "mark": {"type": "rule", "color": "#5d606b", "strokeWidth": 2, "strokeDash": [2, 4]},
          "encoding": {
            "x": {"datum": 1711008230400, "type": "temporal"},
            "x2": {"datum": 1723453977600},
            "y": {"datum": 1.413, "type": "quantitative"}
          }
        },
        {
          "data": {"name": "one"},
          "mark": {"type": "rule", "color": "#5d606b", "strokeWidth": 2, "strokeDash": [2, 4]},
          "encoding": {
            "x": {"datum": 1711008230400, "type": "temporal"},
            "x2": {"datum": 1723492252800},
            "y": {"datum": 0.6516, "type": "quantitative"}
          }
        },
        {
          "data": {"name": "one"},
          "mark": {"type": "rule", "color": "#e35656", "strokeWidth": 2, "strokeDash": [2, 4]},
          "encoding": {
            "x": {"datum": 1711008230400, "type": "temporal"},
            "x2": {"datum": 1723803206400},
            "y": {"datum": 0.6765, "type": "quantitative"}
          }
        },
        {
          "data": {"name": "bars"},
          "mark": {"type": "rule", "strokeWidth": 2},
          "encoding": {
            "x": {"field": "date", "type": "temporal"},
            "y": {"field": "low", "type": "quantitative"},
            "y2": {"field": "high"},
            "color": {"condition": {"test": "datum.close >= datum.open", "value": "#53a966"}, "value": "#e35656"}
          }
        },
        {
          "data": {"name": "bars"},
          "mark": {"type": "bar", "size": 14},
          "encoding": {
            "x": {"field": "date", "type": "temporal"},
            "y": {"field": "open", "type": "quantitative"},
            "y2": {"field": "close"},
            "color": {"condition": {"test": "datum.close >= datum.open", "value": "#53a966"}, "value": "#e35656"}
          }
        },
        {
          "data": {"name": "one"},
          "mark": {"type": "text", "align": "left", "baseline": "middle", "fontSize": 23, "color": "#131722"},
          "encoding": {"x": {"datum": 1711092384000, "type": "temporal"}, "y": {"datum": 1.4841, "type": "quantitative"}, "text": {"value": "SUI/USDT Spot, 1D, WhiteBIT"}}
        },
        {
          "data": {"name": "one"},
          "mark": {"type": "text", "align": "left", "baseline": "middle", "fontSize": 23, "color": "#131722"},
          "encoding": {"x": {"datum": 1712729491200, "type": "temporal"}, "y": {"datum": 1.4841, "type": "quantitative"}, "text": {"value": "O"}}
        },
        {
          "data": {"name": "one"},
          "mark": {"type": "text", "align": "left", "baseline": "middle", "fontSize": 23, "color": "#e35656"},
          "encoding": {"x": {"datum": 1712827555200, "type": "temporal"}, "y": {"datum": 1.4841, "type": "quantitative"}, "text": {"value": "0.6901"}}
        },
        {
          "data": {"name": "one"},
          "mark": {"type": "text", "align": "left", "baseline": "middle", "fontSize": 23, "color": "#131722"},
          "encoding": {"x": {"datum": 1713255494400, "type": "temporal"}, "y": {"datum": 1.4841, "type": "quantitative"}, "text": {"value": "H"}}
        },
        {
          "data": {"name": "one"},
          "mark": {"type": "text", "align": "left", "baseline": "middle", "fontSize": 23, "color": "#e35656"},
          "encoding": {"x": {"datum": 1713341548800, "type": "temporal"}, "y": {"datum": 1.4841, "type": "quantitative"}, "text": {"value": "0.6926"}}
        },
        {
          "data": {"name": "one"},
          "mark": {"type": "text", "align": "left", "baseline": "middle", "fontSize": 23, "color": "#131722"},
          "encoding": {"x": {"datum": 1713786249600, "type": "temporal"}, "y": {"datum": 1.4841, "type": "quantitative"}, "text": {"value": "L"}}
        },
        {
          "data": {"name": "one"},
          "mark": {"type": "text", "align": "left", "baseline": "middle", "fontSize": 23, "color": "#e35656"},
          "encoding": {"x": {"datum": 1713857961600, "type": "temporal"}, "y": {"datum": 1.4841, "type": "quantitative"}, "text": {"value": "0.6684"}}
        },
        {
          "data": {"name": "one"},
          "mark": {"type": "text", "align": "left", "baseline": "middle", "fontSize": 23, "color": "#131722"},
          "encoding": {"x": {"datum": 1714307328000, "type": "temporal"}, "y": {"datum": 1.4841, "type": "quantitative"}, "text": {"value": "C"}}
        },
        {
          "data": {"name": "one"},
          "mark": {"type": "text", "align": "left", "baseline": "middle", "fontSize": 23, "color": "#e35656"},
          "encoding": {"x": {"datum": 1714402972800, "type": "temporal"}, "y": {"datum": 1.4841, "type": "quantitative"}, "text": {"value": "0.6765"}}
        },
        {
          "data": {"name": "one"},
          "mark": {"type": "text", "align": "left", "baseline": "middle", "fontSize": 23, "color": "#e35656"},
          "encoding": {"x": {"datum": 1714852512000, "type": "temporal"}, "y": {"datum": 1.4841, "type": "quantitative"}, "text": {"value": "−0.0138 (−2.00%)"}}
        },
        {
          "data": {"name": "one"},
          "mark": {"type": "text", "align": "left", "baseline": "middle", "fontSize": 23, "color": "#131722"},
          "encoding": {"x": {"datum": 1711092384000, "type": "temporal"}, "y": {"datum": 1.4559, "type": "quantitative"}, "text": {"value": "BB (20, 2)"}}
        },
        {
          "data": {"name": "one"},
          "mark": {"type": "text", "align": "left", "baseline": "middle", "fontSize": 23, "color": "#ff6d00"},
          "encoding": {"x": {"datum": 1711706342400, "type": "temporal"}, "y": {"datum": 1.4559, "type": "quantitative"}, "text": {"value": "0.7118"}}
        },
        {
          "data": {"name": "one"},
          "mark": {"type": "text", "align": "left", "baseline": "middle", "fontSize": 23, "color": "#2196f3"},
          "encoding": {"x": {"datum": 1712107929600, "type": "temporal"}, "y": {"datum": 1.4559, "type": "quantitative"}, "text": {"value": "0.7755"}}
        },
        {
          "data": {"name": "one"},
          "mark": {"type": "text", "align": "left", "baseline": "middle", "fontSize": 23, "color": "#2196f3"},
          "encoding": {"x": {"datum": 1712547878400, "type": "temporal"}, "y": {"datum": 1.4559, "type": "quantitative"}, "text": {"value": "0.6480"}}
        },
        {
          "data": {"name": "one"},
          "mark": {"type": "text", "align": "left", "baseline": "middle", "fontSize": 23, "color": "#131722"},
          "encoding": {"x": {"datum": 1711092384000, "type": "temporal"}, "y": {"datum": 1.4278, "type": "quantitative"}, "text": {"value": "BB (20, 2)"}}
        },
        {
          "data": {"name": "one"},
          "mark": {"type": "text", "align": "left", "baseline": "middle", "fontSize": 23, "color": "#ffb300"},
          "encoding": {"x": {"datum": 1711706342400, "type": "temporal"}, "y": {"datum": 1.4278, "type": "quantitative"}, "text": {"value": "0.7118"}}
        },
        {
          "data": {"name": "one"},
          "mark": {"type": "text", "align": "left", "baseline": "middle", "fontSize": 23, "color": "#2962ff"},
          "encoding": {"x": {"datum": 1712107929600, "type": "temporal"}, "y": {"datum": 1.4278, "type": "quantitative"}, "text": {"value": "0.7755"}}
        },
        {
          "data": {"name": "one"},
          "mark": {"type": "text", "align": "left", "baseline": "middle", "fontSize": 23, "color": "#2962ff"},
          "encoding": {"x": {"datum": 1712547878400, "type": "temporal"}, "y": {"datum": 1.4278, "type": "quantitative"}, "text": {"value": "0.6480"}}
        },
        {
          "data": {"name": "one"},
          "mark": {"type": "bar", "orient": "horizontal", "size": 31, "color": "#e1edfa", "cornerRadius": 3},
          "encoding": {"x": {"datum": 1723453977600, "type": "temporal"}, "x2": {"datum": 1723793616000}, "y": {"datum": 1.4112, "type": "quantitative"}}
        },
        {
          "data": {"name": "one"},
          "mark": {"type": "text", "align": "left", "baseline": "middle", "fontSize": 22, "color": "#131722"},
          "encoding": {"x": {"datum": 1723511433600, "type": "temporal"}, "y": {"datum": 1.4112, "type": "quantitative"}, "text": {"value": "High"}}
        },
        {
          "data": {"name": "one"},
          "mark": {"type": "bar", "orient": "horizontal", "size": 31, "color": "#e1edfa", "cornerRadius": 3},
          "encoding": {"x": {"datum": 1723492252800, "type": "temporal"}, "x2": {"datum": 1723793616000}, "y": {"datum": 0.6491, "type": "quantitative"}}
        },
        {
          "data": {"name": "one"},
          "mark": {"type": "text", "align": "left", "baseline": "middle", "fontSize": 22, "color": "#131722"},
          "encoding": {"x": {"datum": 1723548412800, "type": "temporal"}, "y": {"datum": 0.6491, "type": "quantitative"}, "text": {"value": "Low"}}
        },
        {
          "data": {"name": "tags"},
          "mark": {"type": "bar", "orient": "horizontal", "size": 31, "cornerRadius": 3},
          "encoding": {
            "x": {"datum": 1723808044800, "type": "temporal"},
            "x2": {"datum": 1724334048000},
            "y": {"field": "level", "type": "quantitative"},
            "color": {
              "field": "kind", "type": "nominal", "legend": null,
              "scale": {
                "domain": ["high", "low", "bb1band", "bb2band", "bb1basis", "bb2basis", "last"],
                "range": ["#e1edfa", "#e1edfa", "#2196f3", "#2962ff", "#ff6d00", "#ffb300", "#e35656"]
              }
            }
          }
        },
        {
          "data": {"name": "tags"},
          "mark": {"type": "text", "align": "left", "baseline": "middle", "fontSize": 22},
          "encoding": {
            "x": {"datum": 1723889347200, "type": "temporal"},
            "y": {"field": "level", "type": "quantitative"},
            "text": {"field": "label"},
            "color": {"condition": {"test": "datum.kind == 'high' || datum.kind == 'low' || datum.kind == 'bb2basis'", "value": "#131722"}, "value": "#ffffff"}
          }
        },
        {
          "data": {"name": "one"},
          "mark": {"type": "rule", "color": "#e0e3eb", "strokeWidth": 2},
          "encoding": {"x": {"datum": 1711008230400, "type": "temporal"}, "x2": {"datum": 1724534841600}, "y": {"datum": 1.509, "type": "quantitative"}}
        },
        {
          "data": {"name": "one"},
          "mark": {"type": "rule", "color": "#e0e3eb", "strokeWidth": 2},
          "encoding": {"x": {"datum": 1711008230400, "type": "temporal"}, "x2": {"datum": 1724534841600}, "y": {"datum": 0.5484, "type": "quantitative"}}
        },
        {
          "data": {"name": "one"},
          "mark": {"type": "rule", "color": "#e0e3eb", "strokeWidth": 2},
          "encoding": {"x": {"datum": 1711008230400, "type": "temporal"}, "y": {"datum": 0.5484, "type": "quantitative"}, "y2": {"datum": 1.509}}
        },
        {
          "data": {"name": "one"},
          "mark": {"type": "rule", "color": "#e0e3eb", "strokeWidth": 2},
          "encoding": {"x": {"datum": 1724534841600, "type": "temporal"}, "y": {"datum": 0.5484, "type": "quantitative"}, "y2": {"datum": 1.509}}
        }
      ]
    },
    {
      "width": 2676,
      "height": 311,
      "layer": [
        {
          "data": {"name": "bars"},
          "mark": {"type": "bar", "size": 16},
          "encoding": {
            "x": {
              "field": "date", "type": "temporal",
              "scale": {"type": "utc", "domain": [1711008230400, 1723803206400], "nice": false},
              "axis": {
                "title": null, "ticks": false, "domain": false, "grid": true, "labelPadding": 14,
                "values": [1711929600000, 1712707200000, 1713484800000, 1714521600000, 1715299200000, 1716076800000, 1717200000000, 1717977600000, 1718755200000, 1719792000000, 1720569600000, 1721347200000, 1722470400000, 1723248000000],
                "labelExpr": "utcFormat(datum.value, '%d') == '01' ? utcFormat(datum.value, '%b') : utcFormat(datum.value, '%d')",
                "labelFontWeight": {"condition": {"test": "utcFormat(datum.value, '%d') == '01'", "value": 700}, "value": 400}
              }
            },
            "y": {
              "field": "volume", "type": "quantitative",
              "scale": {"domain": [0, 32000000], "zero": false, "nice": false},
              "axis": {
                "title": null, "orient": "right", "ticks": false, "domain": false, "grid": true, "labelPadding": 18,
                "values": [10000000, 20000000, 30000000],
                "labelExpr": "format(datum.value / 1000000, 'd') + ' M'"
              }
            },
            "color": {"condition": {"test": "datum.close >= datum.open", "value": "#badcc2"}, "value": "#f3bbbb"}
          }
        },
        {
          "data": {"name": "one"},
          "mark": {"type": "text", "align": "left", "baseline": "middle", "fontSize": 23, "color": "#131722"},
          "encoding": {"x": {"datum": 1711092384000, "type": "temporal"}, "y": {"datum": 28700000, "type": "quantitative"}, "text": {"value": "Volume (SMA)"}}
        },
        {
          "data": {"name": "one"},
          "mark": {"type": "text", "align": "left", "baseline": "middle", "fontSize": 23, "color": "#e35656"},
          "encoding": {"x": {"datum": 1711929600000, "type": "temporal"}, "y": {"datum": 28700000, "type": "quantitative"}, "text": {"value": "7.078 M"}}
        },
        {
          "data": {"name": "one"},
          "mark": {"type": "bar", "orient": "horizontal", "size": 31, "color": "#e35656", "cornerRadius": 3},
          "encoding": {"x": {"datum": 1723808044800, "type": "temporal"}, "x2": {"datum": 1724372236800}, "y": {"datum": 7078000, "type": "quantitative"}}
        },
        {
          "data": {"name": "one"},
          "mark": {"type": "text", "align": "left", "baseline": "middle", "fontSize": 22, "color": "#ffffff"},
          "encoding": {"x": {"datum": 1723889347200, "type": "temporal"}, "y": {"datum": 7078000, "type": "quantitative"}, "text": {"value": "7.078 M"}}
        },
        {
          "data": {"name": "one"},
          "mark": {"type": "rule", "color": "#e0e3eb", "strokeWidth": 2},
          "encoding": {"x": {"datum": 1711008230400, "type": "temporal"}, "y": {"datum": -5900000, "type": "quantitative"}, "y2": {"datum": 32000000}}
        },
        {
          "data": {"name": "one"},
          "mark": {"type": "rule", "color": "#e0e3eb", "strokeWidth": 2},
          "encoding": {"x": {"datum": 1724534841600, "type": "temporal"}, "y": {"datum": -5900000, "type": "quantitative"}, "y2": {"datum": 32000000}}
        },
        {
          "data": {"name": "one"},
          "mark": {"type": "rule", "color": "#e0e3eb", "strokeWidth": 2},
          "encoding": {"x": {"datum": 1711008230400, "type": "temporal"}, "x2": {"datum": 1724534841600}, "y": {"datum": -5900000, "type": "quantitative"}}
        },
        {
          "data": {"name": "one"},
          "mark": {"type": "text", "align": "left", "baseline": "middle", "fontSize": 27, "fontWeight": 900, "color": "#131722"},
          "encoding": {"x": {"datum": 1711022572800, "type": "temporal"}, "y": {"datum": -9350000, "type": "quantitative"}, "text": {"value": "17"}}
        },
        {
          "data": {"name": "one"},
          "mark": {"type": "text", "align": "left", "baseline": "middle", "fontSize": 26, "fontWeight": 500, "color": "#131722"},
          "encoding": {"x": {"datum": 1711232956800, "type": "temporal"}, "y": {"datum": -9350000, "type": "quantitative"}, "text": {"value": "TradingView"}}
        },
        {
          "data": {"name": "one"},
          "mark": {"type": "text", "align": "left", "baseline": "middle", "fontSize": 23, "color": "#c9ccd4"},
          "encoding": {"x": {"datum": 1723564224000, "type": "temporal"}, "y": {"datum": -10280000, "type": "quantitative"}, "text": {"value": "@ Tyler McKnight 1"}}
        }
      ]
    }
  ]
}
